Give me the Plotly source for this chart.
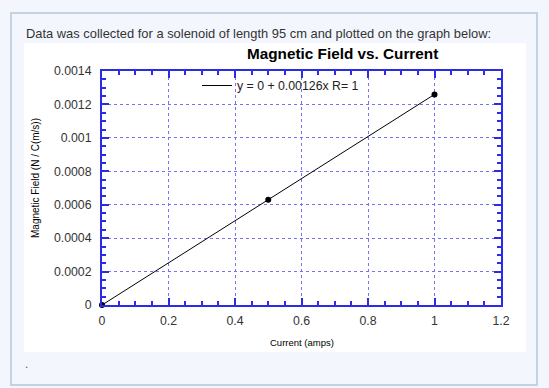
import plotly.graph_objects as go

current = [0, 0.5, 1.0]
field = [0, 0.00063, 0.00126]
x_ticks = [0, 0.2, 0.4, 0.6, 0.8, 1.0, 1.2]
x_tick_text = ["0", "0.2", "0.4", "0.6", "0.8", "1", "1.2"]
y_ticks = [0, 0.0002, 0.0004, 0.0006, 0.0008, 0.001, 0.0012, 0.0014]
y_tick_text = ["0", "0.0002", "0.0004", "0.0006", "0.0008", "0.001", "0.0012", "0.0014"]
fit_label = "y = 0 + 0.00126x R= 1"

W, H = 549, 388
L, R, T, B = 102, 48, 71, 83
PW, PH = W - L - R, H - T - B

def px(x):
    return (x - L) / PW

def py(y):
    return (H - B - y) / PH

AX = "#2c2ce8"
GRID = "#7474f5"
FONT = "Liberation Sans, Arial, sans-serif"

fig = go.Figure()
fig.add_trace(go.Scatter(x=current, y=field, mode="lines", name=fit_label,
                         line=dict(color="black", width=1), showlegend=True))
fig.add_trace(go.Scatter(x=current, y=field, mode="markers", showlegend=False,
                         marker=dict(color="black", size=6), cliponaxis=False))

axis_common = dict(showline=True, linecolor=AX, linewidth=2, mirror="ticks",
                   ticks="inside", tickcolor=AX, ticklen=7, tickwidth=2,
                   showgrid=True, gridcolor=GRID, griddash="dot", gridwidth=1,
                   zeroline=False, tickfont=dict(family=FONT, size=12.3, color="#333333"))

fig.update_xaxes(range=[0, 1.2], tickvals=x_ticks, ticktext=x_tick_text,
                 minor=dict(ticks="inside", ticklen=4, tickwidth=1.5, tickcolor=AX,
                            dtick=0.05, showgrid=False),
                 ticklabelstandoff=3, **axis_common)
fig.update_yaxes(range=[0, 0.0014], tickvals=y_ticks, ticktext=y_tick_text,
                 minor=dict(ticks="inside", ticklen=4, tickwidth=1.5, tickcolor=AX,
                            dtick=0.00005, showgrid=False),
                 ticklabelstandoff=6, **axis_common)

shapes = [
    dict(type="rect", xref="paper", yref="paper", x0=px(11), x1=px(537), y0=py(385), y1=py(13),
         line=dict(color="#c3d2e0", width=2), fillcolor="#f3f7fd", layer="below"),
    dict(type="rect", xref="paper", yref="paper", x0=px(24), x1=px(526), y0=py(352), y1=py(43),
         line=dict(width=0), fillcolor="white", layer="below"),
]

annotations = [
    dict(text="Data was collected for a solenoid of length 95 cm and plotted on the graph below:",
         xref="paper", yref="paper", x=px(24), y=py(34), xanchor="left", yanchor="middle",
         showarrow=False, font=dict(family=FONT, size=12.9, color="#333333")),
    dict(text="<b>Magnetic Field vs. Current</b>", xref="paper", yref="paper",
         x=px(342), y=py(53), xanchor="center", yanchor="middle", showarrow=False,
         font=dict(family=FONT, size=15.3, color="black")),
    dict(text="Magnetic Field (N / C(m/s))", xref="paper", yref="paper",
         x=px(35), y=py(178), xanchor="center", yanchor="middle", textangle=-90,
         showarrow=False, font=dict(family=FONT, size=10, color="black")),
    dict(text="Current (amps)", xref="paper", yref="paper",
         x=px(302), y=py(342), xanchor="center", yanchor="middle",
         showarrow=False, font=dict(family=FONT, size=9.5, color="black")),
    dict(text=".", xref="paper", yref="paper",
         x=px(26), y=py(364), xanchor="center", yanchor="middle",
         showarrow=False, font=dict(family=FONT, size=12, color="#8a5a2a")),
]

fig.update_layout(
    width=W, height=H, margin=dict(l=L, r=R, t=T, b=B),
    paper_bgcolor="#f3f7fd", plot_bgcolor="white",
    shapes=shapes, annotations=annotations,
    legend=dict(x=px(197), y=py(71), xanchor="left", yanchor="top",
                bgcolor="rgba(0,0,0,0)", borderwidth=0,
                font=dict(family=FONT, size=12.3, color="#222222"),
                itemwidth=30, tracegroupgap=0),
    showlegend=True,
)

fig.write_html("out.html")
